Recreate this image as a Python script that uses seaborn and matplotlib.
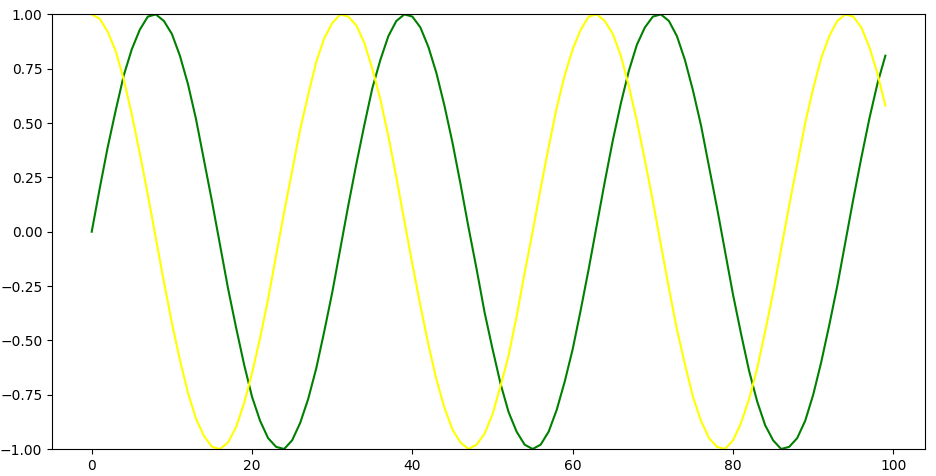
import numpy as np
import matplotlib
matplotlib.use("Agg")
import matplotlib.pyplot as plt
import seaborn as sns

# sample index along the x axis
steps = list(range(100))

# green curve
green_vals = [
    0.00, 0.20, 0.39, 0.56, 0.72, 0.84, 0.93, 0.99, 1.00, 0.97,
    0.91, 0.81, 0.68, 0.52, 0.33, 0.14, -0.06, -0.26, -0.44, -0.61,
    -0.76, -0.87, -0.95, -0.99, -1.00, -0.96, -0.88, -0.77, -0.63, -0.46,
    -0.28, -0.08, 0.12, 0.31, 0.49, 0.66, 0.79, 0.90, 0.97, 1.00,
    0.99, 0.94, 0.85, 0.73, 0.58, 0.41, 0.22, 0.02, -0.17, -0.37,
    -0.54, -0.70, -0.83, -0.92, -0.98, -1.00, -0.98, -0.92, -0.82, -0.69,
    -0.54, -0.36, -0.17, 0.03, 0.23, 0.42, 0.59, 0.74, 0.86, 0.94,
    0.99, 1.00, 0.97, 0.90, 0.79, 0.65, 0.49, 0.30, 0.11, -0.09,
    -0.29, -0.47, -0.64, -0.78, -0.89, -0.96, -1.00, -0.99, -0.95, -0.87,
    -0.75, -0.60, -0.43, -0.25, -0.05, 0.15, 0.34, 0.52, 0.68, 0.81,
]

# yellow curve
yellow_vals = [
    1.00, 0.98, 0.92, 0.83, 0.70, 0.54, 0.36, 0.17, -0.03, -0.23,
    -0.42, -0.59, -0.74, -0.86, -0.94, -0.99, -1.00, -0.97, -0.90, -0.79,
    -0.65, -0.49, -0.31, -0.11, 0.09, 0.28, 0.47, 0.63, 0.78, 0.89,
    0.96, 1.00, 0.99, 0.95, 0.87, 0.75, 0.61, 0.44, 0.25, 0.05,
    -0.15, -0.34, -0.52, -0.68, -0.81, -0.91, -0.97, -1.00, -0.98, -0.93,
    -0.84, -0.71, -0.57, -0.39, -0.19, 0.00, 0.20, 0.39, 0.57, 0.72,
    0.84, 0.93, 0.99, 1.00, 0.97, 0.91, 0.81, 0.67, 0.51, 0.33,
    0.14, -0.06, -0.26, -0.45, -0.61, -0.76, -0.87, -0.95, -0.99, -1.00,
    -0.96, -0.88, -0.77, -0.63, -0.46, -0.28, -0.08, 0.12, 0.31, 0.50,
    0.66, 0.80, 0.90, 0.97, 1.00, 0.99, 0.94, 0.85, 0.73, 0.58,
]

fig = plt.figure(figsize=(9.36, 4.76), dpi=100)
ax = fig.add_axes([0.0556, 0.0567, 0.9327, 0.913])

sns.lineplot(x=steps, y=green_vals, color="green", ax=ax)
sns.lineplot(x=steps, y=yellow_vals, color="yellow", ax=ax)

ax.set_ylim(-1, 1)

fig.savefig("out.png", dpi=100)
